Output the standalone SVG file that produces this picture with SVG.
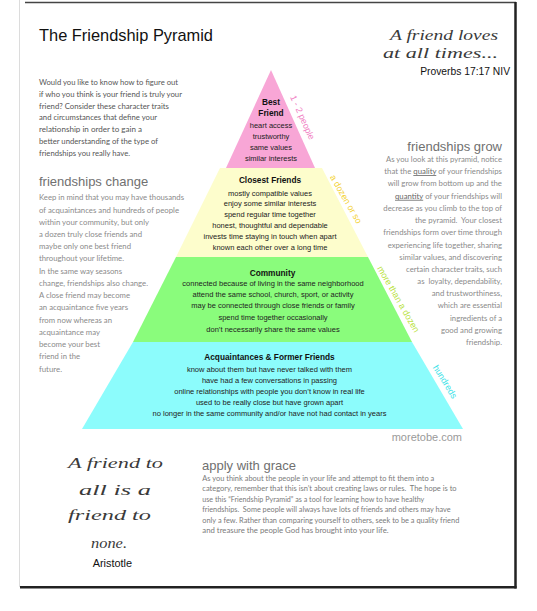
<svg xmlns="http://www.w3.org/2000/svg" width="537" height="611" viewBox="0 0 537 611">
<style>
.para{font-family:"Lato","Liberation Sans",sans-serif;font-size:8px}
.intro{fill:#555}
.body{fill:#8a8a8a}
.hdr{font-family:"Liberation Sans",Arial,sans-serif;font-size:13px;fill:#707070}
.pt{font-family:"Liberation Sans",Arial,sans-serif;font-size:7.5px;fill:#222;text-anchor:middle}
.ptb{font-weight:bold;font-size:8.3px;fill:#111}
.side{font-family:"Liberation Sans",Arial,sans-serif;font-size:9px;text-anchor:middle}
.script{font-family:"Liberation Serif",serif;font-style:italic;font-size:14.5px;fill:#3a3a3a}
.u{text-decoration:underline;fill:#666}
</style>
<rect width="537" height="611" fill="#fff"/>
<g id="page-frame">
<line x1="19.5" y1="0" x2="19.5" y2="587" stroke="#dcdcdc" stroke-width="1"/>
<line x1="25" y1="2.5" x2="516" y2="2.5" stroke="#444" stroke-width="1.5"/>
<line x1="515.5" y1="2" x2="515.5" y2="588.5" stroke="#222" stroke-width="2.5"/>
<line x1="20" y1="587.3" x2="516.5" y2="587.3" stroke="#222" stroke-width="2.5"/>
</g>
<g id="title">
<text x="39" y="41" font-family="Liberation Sans, Arial, sans-serif" font-size="16.4" fill="#111">The Friendship Pyramid</text>
</g>
<g id="quote-proverbs">
<text class="script" x="390" y="40" textLength="108" lengthAdjust="spacingAndGlyphs">A friend loves</text>
<text class="script" x="383" y="58" textLength="115" lengthAdjust="spacingAndGlyphs">at all times...</text>
<text x="510" y="75" text-anchor="end" font-family="Liberation Sans, Arial, sans-serif" font-size="10.3" fill="#111">Proverbs 17:17 NIV</text>
</g>
<g id="intro" class="para intro">
<text x="39" y="85" textLength="139" lengthAdjust="spacingAndGlyphs">Would you like to know how to figure out</text>
<text x="39" y="96.8" textLength="143" lengthAdjust="spacingAndGlyphs">if who you think is your friend is truly your</text>
<text x="39" y="108.6" textLength="130" lengthAdjust="spacingAndGlyphs">friend? Consider these character traits</text>
<text x="39" y="120.4" textLength="118" lengthAdjust="spacingAndGlyphs">and circumstances that define your</text>
<text x="39" y="132.2" textLength="103" lengthAdjust="spacingAndGlyphs">relationship in order to gain a</text>
<text x="39" y="144" textLength="119" lengthAdjust="spacingAndGlyphs">better understanding of the type of</text>
<text x="39" y="155.8" textLength="91" lengthAdjust="spacingAndGlyphs">friendships you really have.</text>
</g>
<g id="friendships-change">
<text class="hdr" x="39" y="186">friendships change</text>
<g class="para body">
<text x="39" y="199.8" textLength="145" lengthAdjust="spacingAndGlyphs">Keep in mind that you may have thousands</text>
<text x="39" y="212.8" textLength="140" lengthAdjust="spacingAndGlyphs">of acquaintances and hundreds of people</text>
<text x="39" y="224.8" textLength="110" lengthAdjust="spacingAndGlyphs">within your community, but only</text>
<text x="39" y="236.8" textLength="103" lengthAdjust="spacingAndGlyphs">a dozen truly close friends and</text>
<text x="39" y="249.2" textLength="92" lengthAdjust="spacingAndGlyphs">maybe only one best friend</text>
<text x="39" y="260.8" textLength="85" lengthAdjust="spacingAndGlyphs">throughout your lifetime.</text>
<text x="39" y="273.8" textLength="83" lengthAdjust="spacingAndGlyphs">In the same way seasons</text>
<text x="39" y="285.8" textLength="109" lengthAdjust="spacingAndGlyphs">change, friendships also change.</text>
<text x="39" y="297.8" textLength="91" lengthAdjust="spacingAndGlyphs">A close friend may become</text>
<text x="39" y="309.8" textLength="89" lengthAdjust="spacingAndGlyphs">an acquaintance five years</text>
<text x="39" y="322.8" textLength="73" lengthAdjust="spacingAndGlyphs">from now whereas an</text>
<text x="39" y="334.8" textLength="61" lengthAdjust="spacingAndGlyphs">acquaintance may</text>
<text x="39" y="346.8" textLength="61" lengthAdjust="spacingAndGlyphs">become your best</text>
<text x="39" y="358.8" textLength="41" lengthAdjust="spacingAndGlyphs">friend in the</text>
<text x="39" y="371.8" textLength="23" lengthAdjust="spacingAndGlyphs">future.</text>
</g>
</g>
<g id="friendships-grow">
<text class="hdr" x="502" y="151" text-anchor="end">friendships grow</text>
<g class="para body">
<text x="386" y="161.8" textLength="116" lengthAdjust="spacingAndGlyphs">As you look at this pyramid, notice</text>
<text x="384.3" y="174.2" textLength="117.7" lengthAdjust="spacingAndGlyphs">that the <tspan class="u">quality</tspan> of your friendships</text>
<text x="387.7" y="185.8" textLength="114.3" lengthAdjust="spacingAndGlyphs">will grow from bottom up and the</text>
<text x="395" y="198.8" textLength="107" lengthAdjust="spacingAndGlyphs"><tspan class="u">quantity</tspan> of your friendships will</text>
<text x="383.3" y="210.8" textLength="118.7" lengthAdjust="spacingAndGlyphs">decrease as you climb to the top of</text>
<text x="415" y="222.8" textLength="87" lengthAdjust="spacingAndGlyphs" xml:space="preserve">the pyramid.  Your closest</text>
<text x="383.3" y="234.8" textLength="118.7" lengthAdjust="spacingAndGlyphs">friendships form over time through</text>
<text x="387.7" y="247.8" textLength="114.3" lengthAdjust="spacingAndGlyphs">experiencing life together, sharing</text>
<text x="399.3" y="259.5" textLength="102.7" lengthAdjust="spacingAndGlyphs">similar values, and discovering</text>
<text x="406" y="271.8" textLength="96" lengthAdjust="spacingAndGlyphs">certain character traits, such</text>
<text x="417.3" y="284.2" textLength="84.7" lengthAdjust="spacingAndGlyphs" xml:space="preserve">as  loyalty, dependability,</text>
<text x="431.7" y="295.8" textLength="70.3" lengthAdjust="spacingAndGlyphs">and trustworthiness,</text>
<text x="437.7" y="308.2" textLength="64.3" lengthAdjust="spacingAndGlyphs">which are essential</text>
<text x="450" y="320.8" textLength="52" lengthAdjust="spacingAndGlyphs">ingredients of a</text>
<text x="441" y="333.2" textLength="61" lengthAdjust="spacingAndGlyphs">good and growing</text>
<text x="466" y="344.8" textLength="36" lengthAdjust="spacingAndGlyphs">friendship.</text>
</g>
</g>
<g id="pyramid">
<g id="layer-best-friend">
<polygon points="271,70 315,168 226,168" fill="#f8a6d6"/>
<text class="pt ptb" x="271" y="104.7">Best</text>
<text class="pt ptb" x="271" y="116.3">Friend</text>
<text class="pt" x="271" y="128.2">heart access</text>
<text class="pt" x="271" y="139.2">trustworthy</text>
<text class="pt" x="271" y="150.2">same values</text>
<text class="pt" x="271" y="161.2">similar interests</text>
<text class="side" fill="#f07cc2" transform="translate(302.5,117.5) rotate(66)" x="0" y="3">1 - 2 people</text>
</g>
<g id="layer-closest-friends">
<polygon points="220,168 322,168 368,257 176,257" fill="#fdfdcc"/>
<text class="pt ptb" x="270" y="183">Closest Friends</text>
<text class="pt" x="270" y="195.5">mostly compatible values</text>
<text class="pt" x="270" y="205.8">enjoy some similar interests</text>
<text class="pt" x="270" y="216.5">spend regular time together</text>
<text class="pt" x="270" y="227.5">honest, thoughtful and dependable</text>
<text class="pt" x="270" y="238.8">invests time staying in touch when apart</text>
<text class="pt" x="270" y="249.8">known each other over a long time</text>
<text class="side" fill="#f3d12f" transform="translate(346,199.2) rotate(60)" x="0" y="3">a dozen or so</text>
</g>
<g id="layer-community">
<polygon points="176,257 368,257 412,342 133,342" fill="#8afc7c"/>
<text class="pt ptb" x="272.5" y="275.7">Community</text>
<text class="pt" x="273" y="286.2">connected because of living in the same neighborhood</text>
<text class="pt" x="273" y="296.8">attend the same school, church, sport, or activity</text>
<text class="pt" x="273" y="308.2">may be connected through close friends or family</text>
<text class="pt" x="273" y="319.8">spend time together occasionally</text>
<text class="pt" x="273" y="331.5">don’t necessarily share the same values</text>
<text class="side" fill="#b9e23c" transform="translate(398.3,299.2) rotate(60)" x="0" y="3">more than a dozen</text>
</g>
<g id="layer-acquaintances">
<polygon points="133,342 412,342 463,429 82,429" fill="#8cfcfc"/>
<text class="pt ptb" x="269.5" y="359.7">Acquaintances &amp; Former Friends</text>
<text class="pt" x="269.5" y="371.8">know about them but have never talked with them</text>
<text class="pt" x="269.5" y="383.2">have had a few conversations in passing</text>
<text class="pt" x="269.5" y="394.2">online relationships with people you don’t know in real life</text>
<text class="pt" x="269.5" y="404.8">used to be really close but have grown apart</text>
<text class="pt" x="269.5" y="415.8">no longer in the same community and/or have not had contact in years</text>
<text class="side" fill="#3ee2e8" transform="translate(445,381.7) rotate(58)" x="0" y="3">hundreds</text>
</g>
</g>
<g id="connectors"/>
<g id="credit">
<text x="462" y="440.5" text-anchor="end" font-family="Liberation Sans, Arial, sans-serif" font-size="11" fill="#9a9a9a">moretobe.com</text>
</g>
<g id="quote-aristotle">
<text class="script" x="68" y="467.5" textLength="95" lengthAdjust="spacingAndGlyphs">A friend to</text>
<text class="script" x="79" y="495" textLength="72" lengthAdjust="spacingAndGlyphs">all is a</text>
<text class="script" x="68" y="519.5" textLength="83" lengthAdjust="spacingAndGlyphs">friend to</text>
<text class="script" x="91" y="548" textLength="36" lengthAdjust="spacingAndGlyphs">none.</text>
<text x="112.3" y="566.5" text-anchor="middle" font-family="Liberation Sans, Arial, sans-serif" font-size="10.9" fill="#111">Aristotle</text>
</g>
<g id="apply-with-grace">
<text class="hdr" x="202" y="469.5">apply with grace</text>
<g class="para body" style="fill:#7a7a7a">
<text x="202.3" y="481" textLength="232" lengthAdjust="spacingAndGlyphs">As you think about the people in your life and attempt to fit them into a</text>
<text x="202.3" y="491.4" textLength="254.3" lengthAdjust="spacingAndGlyphs" xml:space="preserve">category, remember that this isn’t about creating laws or rules.  The hope is to</text>
<text x="202.3" y="501.8" textLength="222" lengthAdjust="spacingAndGlyphs">use this “Friendship Pyramid” as a tool for learning how to have healthy</text>
<text x="202.3" y="512.2" textLength="248.3" lengthAdjust="spacingAndGlyphs" xml:space="preserve">friendships.  Some people will always have lots of friends and others may have</text>
<text x="202.3" y="522.6" textLength="257" lengthAdjust="spacingAndGlyphs">only a few. Rather than comparing yourself to others, seek to be a quality friend</text>
<text x="202.3" y="533" textLength="186.3" lengthAdjust="spacingAndGlyphs">and treasure the people God has brought into your life.</text>
</g>
</g>
</svg>
